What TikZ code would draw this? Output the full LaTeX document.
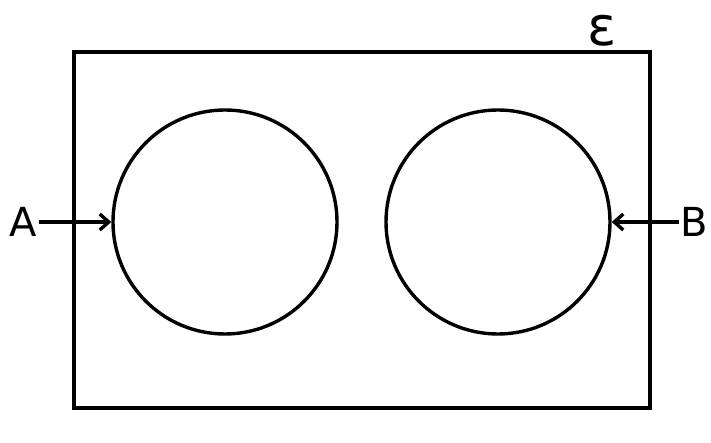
\documentclass[tikz,border=0pt]{standalone}
\usepackage{fontspec}
\setmainfont{DejaVu Sans}
\usetikzlibrary{arrows.meta}

\begin{document}
\begin{tikzpicture}[x=1pt, y=-1pt, >={Straight Barb[length=9pt,width=16pt,line width=3.4pt]}, line width=3.4pt]
	\tikzstyle{set} = [draw, circle, minimum size=224pt, inner sep=0pt]
	\tikzstyle{label} = [font=\fontsize{40}{48}\selectfont, inner sep=0pt]

	\useasboundingbox (0,0) rectangle (711,443);

	\node [draw, rectangle, minimum width=576pt, minimum height=356pt, inner sep=0pt] (universe) at (362,230) {};
	\node [font=\fontsize{54}{64}\selectfont, inner sep=0pt] (eps) at (602,31) {ε};

	\node [set] (setA) at (225,222) {};
	\node [set] (setB) at (498,222) {};

	\node [label, anchor=east] (labA) at (39,222) {A};
	\node [label, anchor=west] (labB) at (679,222) {B};

	\draw [->] (labA.east) -- (setA.west);
	\draw [->] (labB.west) -- (setB.east);
\end{tikzpicture}
\end{document}
